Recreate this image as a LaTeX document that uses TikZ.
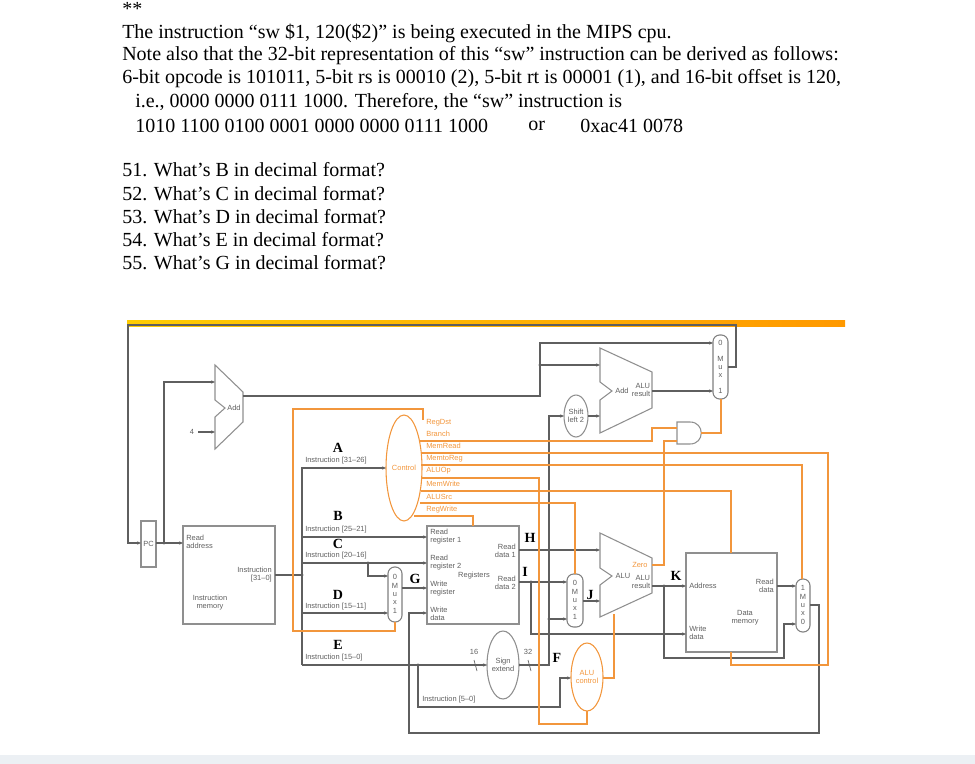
\documentclass[tikz,border=0pt]{standalone}
\usepackage{fontspec}
\setmainfont{Liberation Serif}
\newfontfamily\dsans{Liberation Sans}
\usetikzlibrary{arrows.meta}
\definecolor{wg}{RGB}{95,95,95}
\definecolor{oc}{RGB}{242,150,60}
\definecolor{bs}{RGB}{236,240,244}
\begin{document}
\begin{tikzpicture}[x=0.75pt,y=-0.75pt,
  w/.style={draw=wg,line width=1.1pt},
  c/.style={draw=oc,line width=0.8pt},
  ar/.style={-{Stealth[length=3pt,width=2.5pt]}},
  blk/.style={draw=wg!70,line width=0.8pt},
  lab/.style={font=\dsans\fontsize{5.6}{6}\selectfont,text=wg,inner sep=0pt,align=left},
  clab/.style={font=\dsans\fontsize{5.6}{6}\selectfont,text=oc,inner sep=0pt,anchor=west},
  let/.style={font=\bfseries\fontsize{10.5}{10}\selectfont,inner sep=0pt},
  hd/.style={font=\fontsize{15}{16}\selectfont,anchor=west,inner sep=0pt},
  dot/.style={circle,fill=wg,inner sep=0pt,minimum size=2.5pt},
  mux/.style={draw=wg!80,line width=0.8pt,rounded corners=5pt,fill=white}]
\useasboundingbox (0,0) rectangle (975,764);
\fill[bs] (0,755) rectangle (975,764);
% header
\node[hd] (h0) at (122,9) {**};
\node[hd] (h1) at (122,33) {The instruction “sw \$1, 120(\$2)” is being executed in the MIPS cpu.};
\node[hd] (h2) at (122,56) {Note also that the 32-bit representation of this “sw” instruction can be derived as follows:};
\node[hd] (h3) at (122,79) {6-bit opcode is 101011, 5-bit rs is 00010 (2), 5-bit rt is 00001 (1), and 16-bit offset is 120,};
\node[hd] (h4) at (135,102) {i.e., 0000 0000 0111 1000. Therefore, the “sw” instruction is};
\node[hd] (h5) at (135,126) {1010 1100 0100 0001 0000 0000 0111 1000};
\node[hd] (h6) at (528,126) {or};
\node[hd] (h7) at (580,126) {0xac41 0078};
\node[hd] (q1) at (122,170) {51. What’s B in decimal format?};
\node[hd] (q2) at (122,194) {52. What’s C in decimal format?};
\node[hd] (q3) at (122,217) {53. What’s D in decimal format?};
\node[hd] (q4) at (122,240) {54. What’s E in decimal format?};
\node[hd] (q5) at (122,263) {55. What’s G in decimal format?};
\shade[left color=orange!40!yellow,right color=orange!80!yellow] (127,320) rectangle (845,326);
% blocks
\draw[blk] (141,521) rectangle (156,567);
\node[lab] (pct) at (148.5,544) {PC};
\draw[blk] (183,526) rectangle (275,624);
\node[lab,anchor=north west] (ra) at (186,535) {Read\\address};
\node[lab,anchor=east,align=right] (i310) at (272,575) {Instruction\\{[31–0]}};
\node[lab,align=center] (imem) at (210,603) {Instruction\\memory};
\draw[blk] (427,526) rectangle (519,624);
\node[lab,anchor=west] (rr1) at (430,537) {Read\\register 1};
\node[lab,anchor=west] (rr2) at (430,563) {Read\\register 2};
\node[lab,anchor=west] (wr) at (430,589) {Write\\register};
\node[lab,anchor=west] (wd) at (430,614) {Write\\data};
\node[lab] (regs) at (474,576) {Registers};
\node[lab,anchor=east,align=right] (rd1) at (516,551) {Read\\data 1};
\node[lab,anchor=east,align=right] (rd2) at (516,583) {Read\\data 2};
\draw[blk] (686,553) rectangle (777,652);
\node[lab,anchor=west] (addr) at (689,586) {Address};
\node[lab,anchor=east,align=right] (mrd) at (774,586) {Read\\data};
\node[lab,align=center] (dm) at (745,618) {Data\\memory};
\node[lab,anchor=west] (mwd) at (689,633) {Write\\data};
% adders / ALU
\draw[blk] (215,365)--(243,392)--(243,422)--(215,449)--(215,417)--(225,408)--(215,400)--cycle;
\node[lab] (add1) at (234,408) {Add};
\draw[blk] (600,348)--(652,372)--(652,408)--(600,433)--(600,400)--(612,391)--(600,382)--cycle;
\node[lab] (add2) at (622,391) {Add};
\node[lab,align=right] (ar2) at (641,390) {ALU\\result};
\draw[blk] (600,533)--(652,558)--(652,593)--(600,617)--(600,585)--(612,576)--(600,568)--cycle;
\node[lab] (alu) at (623,576) {ALU};
\node[lab,align=right] (alur) at (641,582) {ALU\\result};
\node[clab] (zero) at (632,565) {Zero};
% ellipses
\draw[c] (404,468) ellipse [x radius=18,y radius=53];
\node[lab,text=oc] (ctl) at (404,468) {Control};
\draw[blk] (503,665) ellipse [x radius=16,y radius=34];
\node[lab,align=center] (se) at (503,665) {Sign\\extend};
\draw[blk] (576,416) ellipse [x radius=12,y radius=21];
\node[lab,align=center] (sl) at (576,416) {Shift\\left 2};
\draw[c] (587,677) ellipse [x radius=16,y radius=34];
\node[lab,align=center,text=oc] (aluc) at (587,677) {ALU\\control};
% muxes
\draw[mux] (713,335) rectangle (728,399);
\node[lab,align=center] (m1t) at (720.5,367) {0\\[6pt]M\\u\\x\\[6pt]1};
\draw[mux] (388,567) rectangle (402,622);
\node[lab,align=center] (m2t) at (395,594) {0\\[1pt]M\\u\\x\\[1pt]1};
\draw[mux] (567,574) rectangle (583,627);
\node[lab,align=center] (m3t) at (575,600) {0\\[1pt]M\\u\\x\\[1pt]1};
\draw[mux] (796,579) rectangle (810,632);
\node[lab,align=center] (m4t) at (803,605) {1\\[1pt]M\\u\\x\\[1pt]0};
% AND gate
\draw[blk] (677,422)--(690,422) .. controls (705,422) and (705,444) .. (690,444) -- (677,444)--cycle;
% control labels
\node[clab] at (426,423) {RegDst};
\node[clab] at (426,434) {Branch};
\node[clab] at (426,446) {MemRead};
\node[clab] at (426,459) {MemtoReg};
\node[clab] at (426,471) {ALUOp};
\node[clab] at (426,484) {MemWrite};
\node[clab] at (426,497) {ALUSrc};
\node[clab] at (426,510) {RegWrite};
% instruction field labels
\node[lab,anchor=west] at (305,461) {Instruction [31–26]};
\node[lab,anchor=west] at (305,530) {Instruction [25–21]};
\node[lab,anchor=west] at (305,556) {Instruction [20–16]};
\node[lab,anchor=west] at (305,607) {Instruction [15–11]};
\node[lab,anchor=west] at (305,658) {Instruction [15–0]};
\node[lab,anchor=west] at (422,700) {Instruction [5–0]};
\node[lab] at (192,432) {4};
\node[lab] at (474,652) {16};
\node[lab] at (528,652) {32};
\draw[wg,line width=0.5pt] (474,660)--(477,671) (528,660)--(531,671);
% letters
\node[let] at (338,448) {A};
\node[let] at (338,516) {B};
\node[let] at (338,544) {C};
\node[let] at (338,595) {D};
\node[let] at (338,645) {E};
\node[let] at (557,658) {F};
\node[let] at (415,579) {G};
\node[let] at (530,538) {H};
\node[let] at (525,572) {I};
\node[let] at (590,595) {J};
\node[let] at (676,576) {K};
% datapath wires
\draw[w,ar] (728,367)--(736,367)--(736,325)--(128,325)--(128,543)--(141,543);
\draw[w,ar] (156,543)--(183,543);
\draw[w,ar] (164,543)--(164,382)--(215,382);
\node[dot] at (164,543) {};
\draw[w,ar] (198,432)--(215,432);
\draw[w,ar] (243,396)--(540,396)--(540,343)--(713,343);
\draw[w,ar] (540,365)--(600,365);
\node[dot] at (540,365) {};
\draw[w] (275,575)--(302,575);
\node[dot] at (302,575) {};
\draw[w,ar] (302,665)--(302,468)--(386,468);
\draw[w,ar] (302,537)--(427,537);
\draw[w,ar] (302,563)--(427,563);
\draw[w,ar] (368,563)--(368,576)--(388,576);
\node[dot] at (368,563) {};
\draw[w,ar] (302,613)--(388,613);
\draw[w,ar] (402,588)--(427,588);
\draw[w,ar] (302,665)--(487,665);
\draw[w,ar] (418,665)--(418,707)--(560,707)--(560,678)--(571,678);
\node[dot] at (418,665) {};
\draw[w,ar] (519,665)--(549,665)--(549,416)--(564,416);
\draw[w,ar] (549,619)--(567,619);
\node[dot] at (549,619) {};
\draw[w,ar] (588,416)--(600,416);
\draw[w,ar] (652,391)--(713,391);
\draw[w,ar] (519,550)--(600,550);
\draw[w,ar] (519,582)--(567,582);
\draw[w,ar] (531,582)--(531,634)--(686,634);
\node[dot] at (531,582) {};
\draw[w,ar] (583,601)--(600,601);
\draw[w,ar] (652,586)--(686,586);
\draw[w,ar] (664,586)--(664,658)--(784,658)--(784,624)--(796,624);
\node[dot] at (664,586) {};
\draw[w,ar] (777,586)--(796,586);
\draw[w,ar] (810,605)--(819,605)--(819,733)--(409,733)--(409,613)--(427,613);
% control wires
\draw[c] (423,420)--(423,409)--(293,409)--(293,631)--(395,631)--(395,622);
\draw[c] (420,441)--(652,441)--(652,428)--(677,428);
\draw[c] (421,453)--(828,453)--(828,665)--(731,665)--(731,652);
\draw[c] (421,465)--(802,465)--(802,579);
\draw[c] (421,478)--(539,478)--(539,724)--(587,724)--(587,711);
\draw[c] (421,491)--(731,491)--(731,553);
\draw[c] (420,503)--(575,503)--(575,574);
\draw[c] (414,516)--(473,516)--(473,526);
\draw[c] (652,565)--(664,565)--(664,441)--(677,441);
\draw[c] (701,433)--(721,433)--(721,399);
\draw[c] (603,678)--(614,678)--(614,614);
\end{tikzpicture}
\end{document}
